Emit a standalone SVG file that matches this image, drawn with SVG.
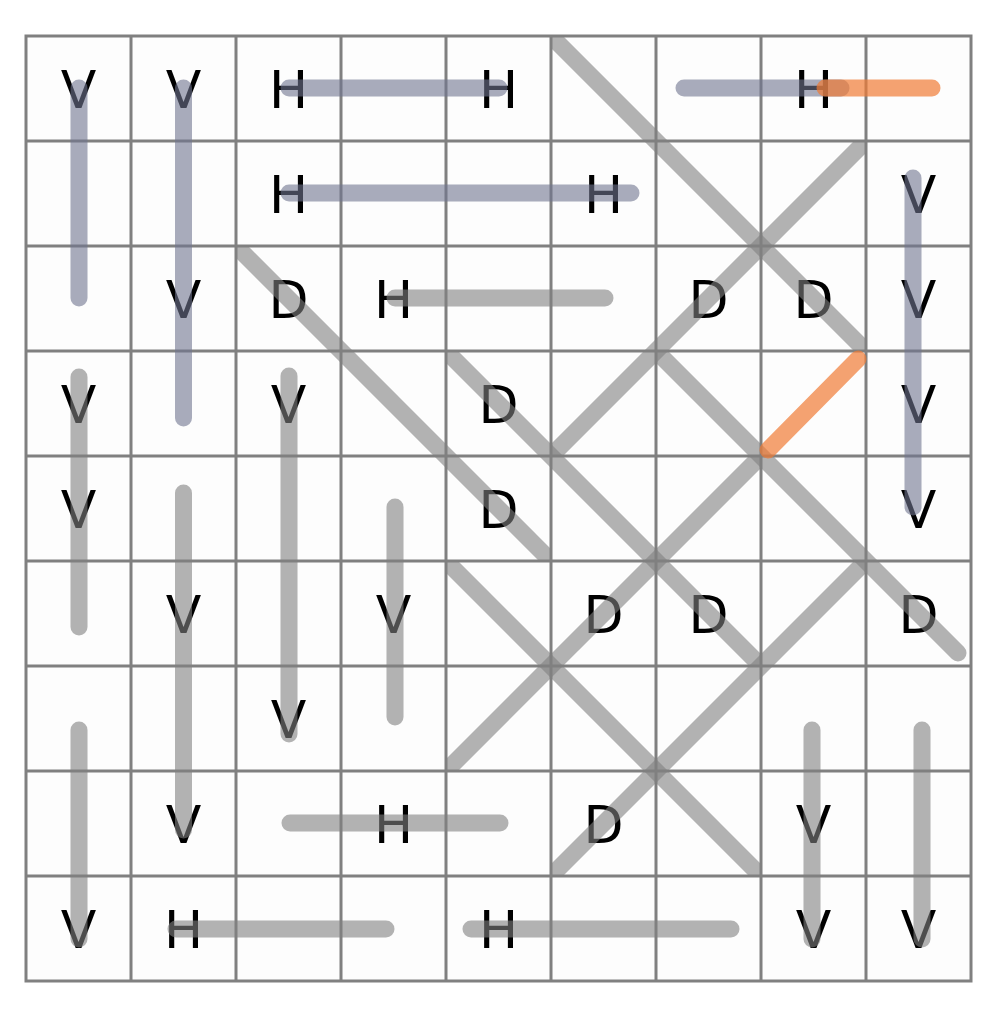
<svg xmlns="http://www.w3.org/2000/svg" width="1000" height="1024" viewBox="0 0 1000 1024">
<defs>
<style>
.grid{fill:none;stroke:#808080;stroke-width:3}
.lbl{font-family:"DejaVu Sans",sans-serif;font-size:52px;fill:#000;text-anchor:middle}
.blue{stroke:#707590;stroke-opacity:0.6;stroke-width:17;stroke-linecap:round;fill:none}
.gray{stroke:#808080;stroke-opacity:0.6;stroke-width:17;stroke-linecap:round;fill:none}
.orange{stroke:#f07a35;stroke-opacity:0.7;stroke-width:17;stroke-linecap:round;fill:none}
</style>
<clipPath id="cA"><rect x="236" y="246" width="315" height="315"/></clipPath>
<clipPath id="cB"><rect x="446" y="351" width="315" height="315"/></clipPath>
<clipPath id="cC"><rect x="656" y="351" width="315" height="315"/></clipPath>
<clipPath id="cD"><rect x="551" y="36" width="315" height="315"/></clipPath>
<clipPath id="cE"><rect x="551" y="141" width="315" height="315"/></clipPath>
<clipPath id="cF"><rect x="446" y="456" width="315" height="315"/></clipPath>
<clipPath id="cG"><rect x="551" y="561" width="315" height="315"/></clipPath>
<clipPath id="cH"><rect x="446" y="561" width="315" height="315"/></clipPath>
</defs>
<rect width="1000" height="1024" fill="#fff"/>
<rect x="26" y="36" width="945" height="945" fill="#fdfdfd"/>
<g id="grid" class="grid">
<path d="M131 36V981M236 36V981M341 36V981M446 36V981M551 36V981M656 36V981M761 36V981M866 36V981M26 141H971M26 246H971M26 351H971M26 456H971M26 561H971M26 666H971M26 771H971M26 876H971"/>
<rect x="26" y="36" width="945" height="945"/>
</g>
<g id="nodes" class="lbl">
<g id="n0_0"><text x="78.5" y="108.3">V</text></g>
<g id="n0_1"><text x="183.5" y="108.3">V</text></g>
<g id="n0_2"><text x="288.5" y="108.3">H</text></g>
<g id="n0_4"><text x="498.5" y="108.3">H</text></g>
<g id="n0_7"><text x="813.5" y="108.3">H</text></g>
<g id="n1_2"><text x="288.5" y="213.3">H</text></g>
<g id="n1_5"><text x="603.5" y="213.3">H</text></g>
<g id="n1_8"><text x="918.5" y="213.3">V</text></g>
<g id="n2_1"><text x="183.5" y="318.3">V</text></g>
<g id="n2_2"><text x="288.5" y="318.3">D</text></g>
<g id="n2_3"><text x="393.5" y="318.3">H</text></g>
<g id="n2_6"><text x="708.5" y="318.3">D</text></g>
<g id="n2_7"><text x="813.5" y="318.3">D</text></g>
<g id="n2_8"><text x="918.5" y="318.3">V</text></g>
<g id="n3_0"><text x="78.5" y="423.3">V</text></g>
<g id="n3_2"><text x="288.5" y="423.3">V</text></g>
<g id="n3_4"><text x="498.5" y="423.3">D</text></g>
<g id="n3_8"><text x="918.5" y="423.3">V</text></g>
<g id="n4_0"><text x="78.5" y="528.3">V</text></g>
<g id="n4_4"><text x="498.5" y="528.3">D</text></g>
<g id="n4_8"><text x="918.5" y="528.3">V</text></g>
<g id="n5_1"><text x="183.5" y="633.3">V</text></g>
<g id="n5_3"><text x="393.5" y="633.3">V</text></g>
<g id="n5_5"><text x="603.5" y="633.3">D</text></g>
<g id="n5_6"><text x="708.5" y="633.3">D</text></g>
<g id="n5_8"><text x="918.5" y="633.3">D</text></g>
<g id="n6_2"><text x="288.5" y="738.3">V</text></g>
<g id="n7_1"><text x="183.5" y="843.3">V</text></g>
<g id="n7_3"><text x="393.5" y="843.3">H</text></g>
<g id="n7_5"><text x="603.5" y="843.3">D</text></g>
<g id="n7_7"><text x="813.5" y="843.3">V</text></g>
<g id="n8_0"><text x="78.5" y="948.3">V</text></g>
<g id="n8_1"><text x="183.5" y="948.3">H</text></g>
<g id="n8_4"><text x="498.5" y="948.3">H</text></g>
<g id="n8_7"><text x="813.5" y="948.3">V</text></g>
<g id="n8_8"><text x="918.5" y="948.3">V</text></g>
</g>
<g id="connectors">
<line class="blue" x1="79" y1="88" x2="79" y2="298"/>
<line class="blue" x1="183.5" y1="88" x2="183.5" y2="418"/>
<line class="blue" x1="289" y1="88" x2="499" y2="88"/>
<line class="blue" x1="289" y1="193" x2="631" y2="193"/>
<line class="blue" x1="684" y1="88" x2="841" y2="88"/>
<line class="blue" x1="913" y1="178" x2="913" y2="507"/>
<line class="orange" x1="825" y1="88" x2="932" y2="88"/>
<line class="gray" x1="79" y1="377" x2="79" y2="627"/>
<line class="gray" x1="289" y1="376" x2="289" y2="734"/>
<line class="gray" x1="183.5" y1="493" x2="183.5" y2="830"/>
<line class="gray" x1="395" y1="507" x2="395" y2="717"/>
<line class="gray" x1="79" y1="730" x2="79" y2="939"/>
<line class="gray" x1="812" y1="730" x2="812" y2="939"/>
<line class="gray" x1="922" y1="730" x2="922" y2="939"/>
<line class="gray" x1="395" y1="298" x2="605" y2="298"/>
<line class="gray" x1="290" y1="823" x2="500" y2="823"/>
<line class="gray" x1="176" y1="929" x2="386" y2="929"/>
<line class="gray" x1="471" y1="929" x2="731" y2="929"/>
<line class="gray" clip-path="url(#cA)" x1="236" y1="246" x2="551" y2="561"/>
<line class="gray" clip-path="url(#cB)" x1="446" y1="351" x2="761" y2="666"/>
<line class="gray" clip-path="url(#cC)" x1="656" y1="351" x2="958" y2="653"/>
<line class="gray" clip-path="url(#cD)" x1="551" y1="36" x2="866" y2="351"/>
<line class="gray" clip-path="url(#cE)" x1="866" y1="141" x2="551" y2="456"/>
<line class="gray" clip-path="url(#cF)" x1="446" y1="771" x2="761" y2="456"/>
<line class="gray" clip-path="url(#cG)" x1="551" y1="876" x2="866" y2="561"/>
<line class="gray" clip-path="url(#cH)" x1="446" y1="561" x2="761" y2="876"/>
<line class="orange" x1="858" y1="359" x2="768" y2="450"/>
</g>
</svg>
